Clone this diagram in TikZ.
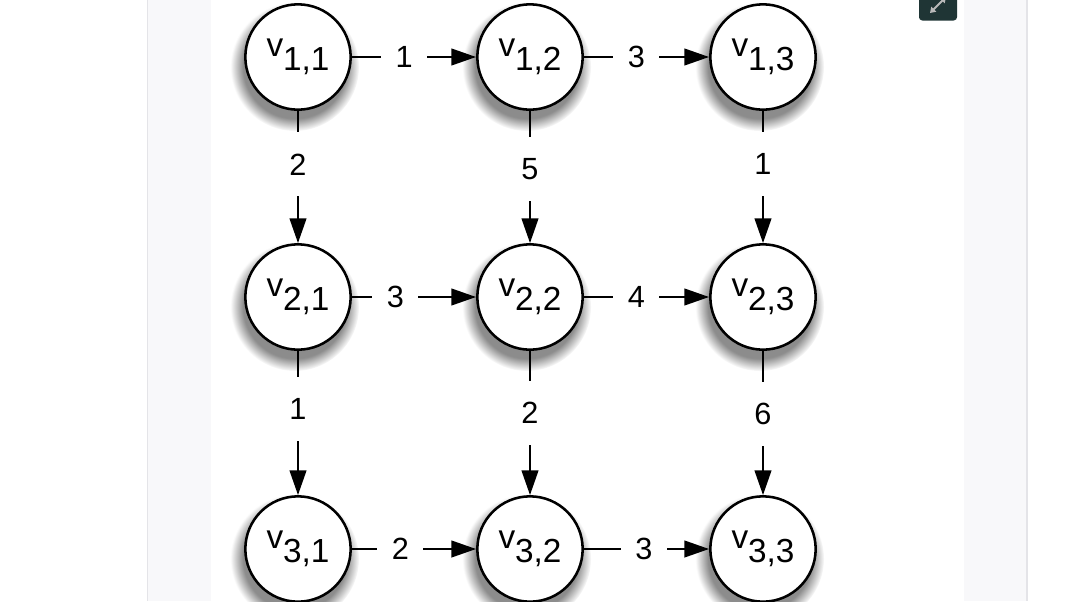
\documentclass[tikz,border=0pt]{standalone}
\usepackage{fontspec}
\setmainfont{Liberation Sans}
\usetikzlibrary{arrows.meta,shadows,fadings}
\definecolor{Panel}{HTML}{F8F8FA}
\definecolor{PanelLine}{HTML}{E4E4E8}
\definecolor{IconBg}{HTML}{1F3535}

\begin{document}
\begin{tikzpicture}[x=.75pt,y=-.75pt,
  vertex/.style={circle,draw,line width=1.9pt,fill=white,minimum size=79pt,inner sep=0pt,
    font=\fontsize{25}{25}\selectfont,
    circular drop shadow={shadow xshift=-2pt,shadow yshift=-6pt,shadow scale=1.22,opacity=.9,
      path fading={circle with fuzzy edge 20 percent}}},
  edge/.style={line width=1.5pt,-{Triangle[length=18.5pt,width=12.5pt]}},
  wt/.style={fill=white,inner sep=0pt,minimum width=34.5pt,minimum height=48pt,font=\fontsize{23}{23}\selectfont}]
\useasboundingbox (0,0) rectangle (1068,601);
\fill[Panel] (147,0) rectangle (1028,601);
\fill[white] (211,0) rectangle (964,601);
\draw[PanelLine,line width=1pt] (147.5,0)--(147.5,601) (1027,0)--(1027,601);
\fill[IconBg,rounded corners=2.5pt] (919,-6) rectangle (957,20.5);
\draw[gray!55,line width=1.4pt,{Triangle[length=4pt,width=5pt]}-{Triangle[length=4pt,width=5pt]}] (930,13)--(946,-3);
\foreach \r/\y in {1/57,2/297,3/549}{\foreach \c/\x in {1/298,2/530,3/763}{\node[vertex] (v\r\c) at (\x,\y) {v\raisebox{-10.5pt}{\r,\c}};}}
\foreach \a/\b/\w/\p in {v11/v12/1/.42,v12/v13/3/.42,v21/v22/3/.35,v22/v23/4/.42,v31/v32/2/.39,v32/v33/3/.48,
  v11/v21/2/.405,v12/v22/5/.44,v13/v23/1/.40,v21/v31/1/.40,v22/v32/2/.43,v23/v33/6/.44}{\draw[edge] (\a) -- (\b) node[pos=\p,wt]{\w};}
\end{tikzpicture}
\end{document}
